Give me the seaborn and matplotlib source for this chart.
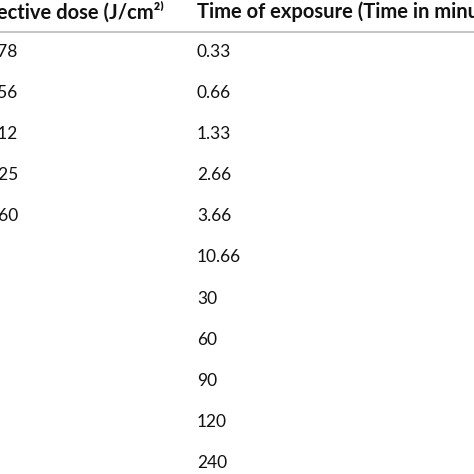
import matplotlib
matplotlib.use("Agg")
import matplotlib.pyplot as plt
import seaborn as sns

sns.set_theme(style="white")
plt.rcParams['font.family'] = ['Lato', 'DejaVu Sans']

header_dose = "Respective dose (J/cm²⁾"
header_time = "Time of exposure (Time in minutes)"
dose_values = ["0.78", "1.56", "3.12", "6.25", "7.60"]
time_values = ["0.33", "0.66", "1.33", "2.66", "3.66", "10.66", "30", "60", "90", "120", "240"]

fig = plt.figure(figsize=(4.74, 4.74), dpi=100)
ax = fig.add_axes([0, 0, 1, 1])
ax.set_xlim(0, 474)
ax.set_ylim(474, 0)
ax.axis("off")

hfs = 14.5
fs = 12.5
ax.text(164, 12, header_dose, ha="right", va="center", fontsize=hfs, fontweight="bold", color="#111")
ax.text(197, 12, header_time, ha="left", va="center", fontsize=hfs, fontweight="bold", color="#111")
ax.plot([0, 474], [31.5, 31.5], color="#bbbbbb", lw=1.2)

y0, dy = 52, 41.1
for i, v in enumerate(dose_values):
    ax.text(18, y0 + i * dy, v, ha="right", va="center", fontsize=fs, color="#111")
for i, v in enumerate(time_values):
    ax.text(197, y0 + i * dy, v, ha="left", va="center", fontsize=fs, color="#111")

fig.savefig("out.png", dpi=100)
